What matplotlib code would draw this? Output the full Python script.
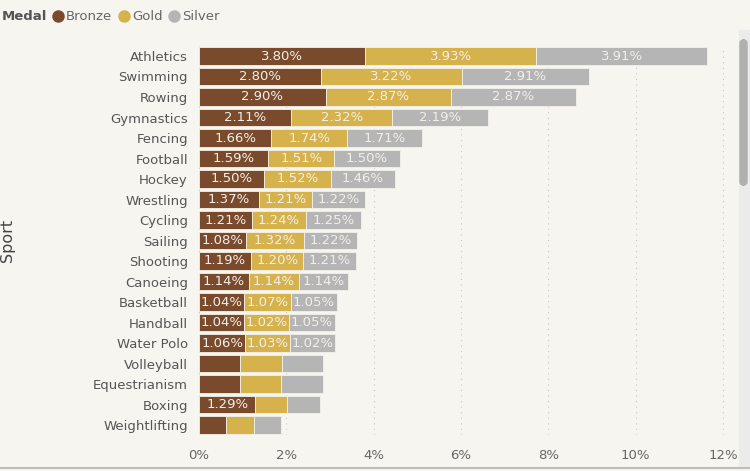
import matplotlib.pyplot as plt
from matplotlib.lines import Line2D
from matplotlib.patches import FancyBboxPatch, Rectangle
import numpy as np

sports = ['Athletics', 'Swimming', 'Rowing', 'Gymnastics', 'Fencing', 'Football',
          'Hockey', 'Wrestling', 'Cycling', 'Sailing', 'Shooting', 'Canoeing',
          'Basketball', 'Handball', 'Water Polo', 'Volleyball', 'Equestrianism',
          'Boxing', 'Weightlifting']
bronze = [3.80, 2.80, 2.90, 2.11, 1.66, 1.59, 1.50, 1.37, 1.21, 1.08, 1.19, 1.14,
          1.04, 1.04, 1.06, 0.95, 0.93, 1.29, 0.62]
gold = [3.93, 3.22, 2.87, 2.32, 1.74, 1.51, 1.52, 1.21, 1.24, 1.32, 1.20, 1.14,
        1.07, 1.02, 1.03, 0.94, 0.95, 0.73, 0.64]
silver = [3.91, 2.91, 2.87, 2.19, 1.71, 1.50, 1.46, 1.22, 1.25, 1.22, 1.21, 1.14,
          1.05, 1.05, 1.02, 0.96, 0.95, 0.75, 0.62]
medals = ['Bronze', 'Gold', 'Silver']
xticks = [0, 2, 4, 6, 8, 10, 12]

bg = '#f7f5f0'
colors = {'Bronze': '#7a4a2c', 'Gold': '#d6b24c', 'Silver': '#b5b5b5'}
txt = '#555555'

plt.rcParams['font.family'] = ['DejaVu Sans']

fig = plt.figure(figsize=(7.5, 4.71), dpi=100, facecolor=bg)
ax = fig.add_axes([199 / 750, 1 - 435.25 / 471, (736 - 199) / 750, (435.25 - 45.75) / 471])
ax.set_facecolor(bg)

y = np.arange(len(sports))
left = np.zeros(len(sports))
for name, vals in zip(medals, [bronze, gold, silver]):
    vals = np.array(vals)
    ax.barh(y, vals, left=left, height=0.84, color=colors[name],
            edgecolor='#f4f1ea', linewidth=0.6, zorder=2)
    for yi, l, v in zip(y, left, vals):
        if v >= 1.0:
            ax.text(l + v / 2, yi, '%.2f%%' % v, ha='center', va='center',
                    color='#f3efe8', fontsize=9.5, zorder=3)
    left += vals

ax.set_xlim(0, 12.3)
ax.set_ylim(len(sports) - 0.5, -0.5)
ax.set_yticks(y)
ax.set_yticklabels(sports, fontsize=9.5, color=txt)
ax.set_xticks(xticks)
ax.set_xticklabels(['%d%%' % t for t in xticks], fontsize=9.5, color='#666666')
ax.tick_params(axis='y', length=0, pad=8)
ax.tick_params(axis='x', length=0, pad=10)
ax.grid(axis='x', linestyle=(0, (1, 4)), color='#c8c8c8', linewidth=0.8, zorder=0)
for s in ax.spines.values():
    s.set_visible(False)

fig.text(8 / 750, 1 - 240 / 471, 'Sport', rotation=90, ha='center', va='center',
         fontsize=11.5, color='#444444')

# legend
fig.text(2 / 750, 1 - 17 / 471, 'Medal', fontsize=9.5, fontweight='bold',
         color='#555555', va='center')
handles = [Line2D([], [], marker='o', linestyle='', markersize=8,
                  color=colors[m]) for m in medals]
fig.legend(handles, medals, loc='center left', bbox_to_anchor=(50 / 750, 1 - 17 / 471),
           ncol=3, frameon=False, fontsize=9.5, labelcolor='#666666',
           handletextpad=0.0, columnspacing=0.3, handlelength=1.2,
           borderaxespad=0, borderpad=0)

# scrollbar and bottom border
fig.patches.append(Rectangle((739 / 750, 0.01), 10 / 750, 1 - 30 / 471 - 0.01,
                             transform=fig.transFigure, color='#ebebeb', zorder=0))
fig.patches.append(FancyBboxPatch((740 / 750, 1 - 185 / 471), 7 / 750, 145 / 471,
                                  boxstyle='round,pad=0,rounding_size=0.006',
                                  transform=fig.transFigure, color='#b0b0b0'))
fig.lines.append(Line2D([0, 1], [3 / 471, 3 / 471], transform=fig.transFigure,
                        color='#bdbdbd', linewidth=1.5))

fig.savefig('out.png', dpi=100, facecolor=bg)
